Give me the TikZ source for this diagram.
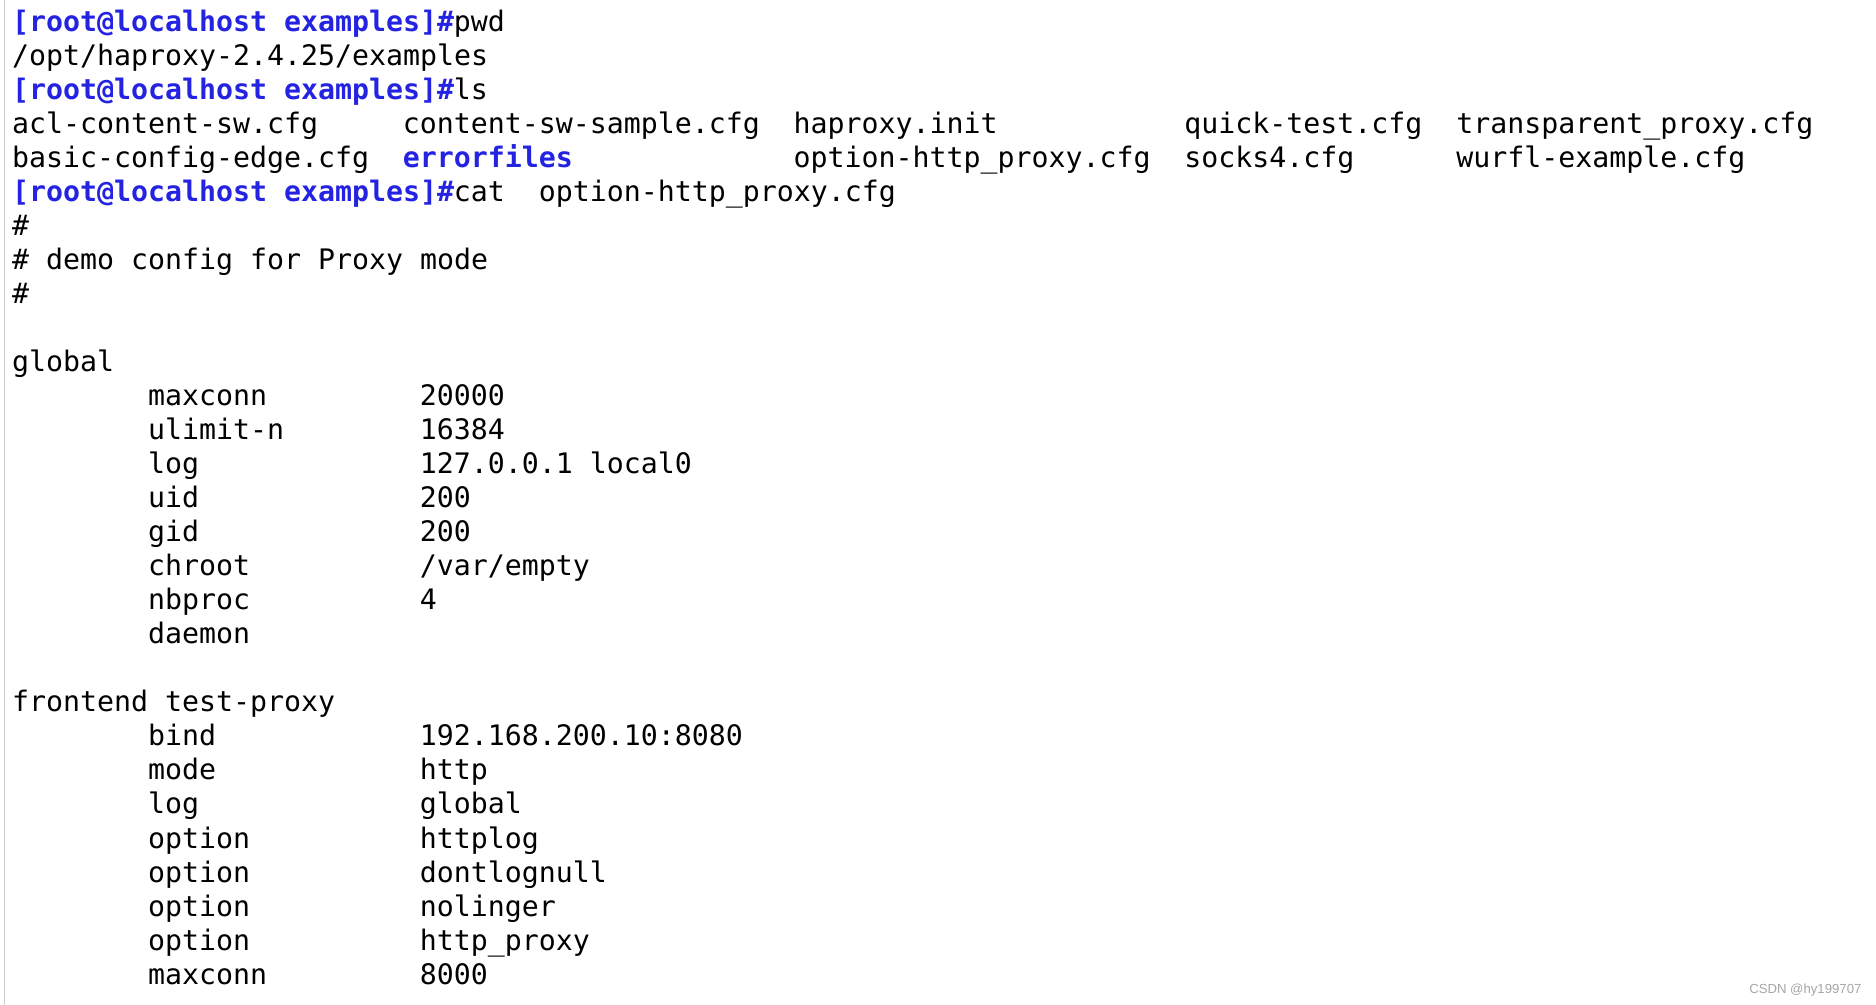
\documentclass[tikz,border=0pt]{standalone}
\usepackage{fontspec}
\setmonofont{DejaVu Sans Mono}
\setsansfont{Liberation Sans}
\definecolor{pblue}{RGB}{35,35,225}
\tikzset{t/.style={anchor=base west,inner sep=0pt,font=\ttfamily\fontsize{23.6}{26}\selectfont,text=black},
 pr/.style={t,text=pblue,font=\ttfamily\bfseries\fontsize{23.6}{26}\selectfont}}
\newcommand\rowy[1]{\fpeval{26+28.45*(#1)}}
\newcommand\colx[1]{\fpeval{10+14.2*(#1)}}
\begin{document}
\begin{tikzpicture}[x=1pt,y=-1pt]
\useasboundingbox[fill=white] (0,0) rectangle (1568,840);
\draw[gray!40,line width=1pt] (4,0) -- (4,840);
\node[pr] (p1) at (\colx{0},\rowy{0}) {[root@localhost examples]\#};
\node[t] (c1) at (\colx{26},\rowy{0}) {pwd};
\node[t] (o1) at (\colx{0},\rowy{1}) {/opt/haproxy-2.4.25/examples};
\node[pr] (p2) at (\colx{0},\rowy{2}) {[root@localhost examples]\#};
\node[t] (c2) at (\colx{26},\rowy{2}) {ls};
\node[t] (f1) at (\colx{0},\rowy{3}) {acl-content-sw.cfg};
\node[t] (f2) at (\colx{23},\rowy{3}) {content-sw-sample.cfg};
\node[t] (f3) at (\colx{46},\rowy{3}) {haproxy.init};
\node[t] (f4) at (\colx{69},\rowy{3}) {quick-test.cfg};
\node[t] (f5) at (\colx{85},\rowy{3}) {transparent\_proxy.cfg};
\node[t] (f6) at (\colx{0},\rowy{4}) {basic-config-edge.cfg};
\node[pr] (f7) at (\colx{23},\rowy{4}) {errorfiles};
\node[t] (f8) at (\colx{46},\rowy{4}) {option-http\_proxy.cfg};
\node[t] (f9) at (\colx{69},\rowy{4}) {socks4.cfg};
\node[t] (f10) at (\colx{85},\rowy{4}) {wurfl-example.cfg};
\node[pr] (p3) at (\colx{0},\rowy{5}) {[root@localhost examples]\#};
\node[t] (c3) at (\colx{26},\rowy{5}) {cat};
\node[t] (c3b) at (\colx{31},\rowy{5}) {option-http\_proxy.cfg};
\node[t] (h1) at (\colx{0},\rowy{6}) {\#};
\node[t] (h2) at (\colx{0},\rowy{7}) {\# demo config for Proxy mode};
\node[t] (h3) at (\colx{0},\rowy{8}) {\#};
\node[t] (g) at (\colx{0},\rowy{10}) {global};
\foreach \k/\v [count=\i from 11] in {maxconn/20000,ulimit-n/16384,log/127.0.0.1 local0,uid/200,gid/200,chroot/{{/var/empty}},nbproc/4,daemon/}{
  \node[t] (gk\i) at (\colx{8},\rowy{\i}) {\k};
  \node[t] (gv\i) at (\colx{24},\rowy{\i}) {\v};
}
\node[t] (fe) at (\colx{0},\rowy{20}) {frontend test-proxy};
\foreach \k/\v [count=\i from 21] in {bind/192.168.200.10:8080,mode/http,log/global,option/httplog,option/dontlognull,option/nolinger,option/http\_proxy,maxconn/8000}{
  \node[t] (fk\i) at (\colx{8},\rowy{\i}) {\k};
  \node[t] (fv\i) at (\colx{24},\rowy{\i}) {\v};
}
\node[anchor=base east,inner sep=0pt,font=\sffamily\fontsize{11}{13}\selectfont,text=gray!70] (wm) at (1556,830) {CSDN @hy199707};
\end{tikzpicture}
\end{document}
